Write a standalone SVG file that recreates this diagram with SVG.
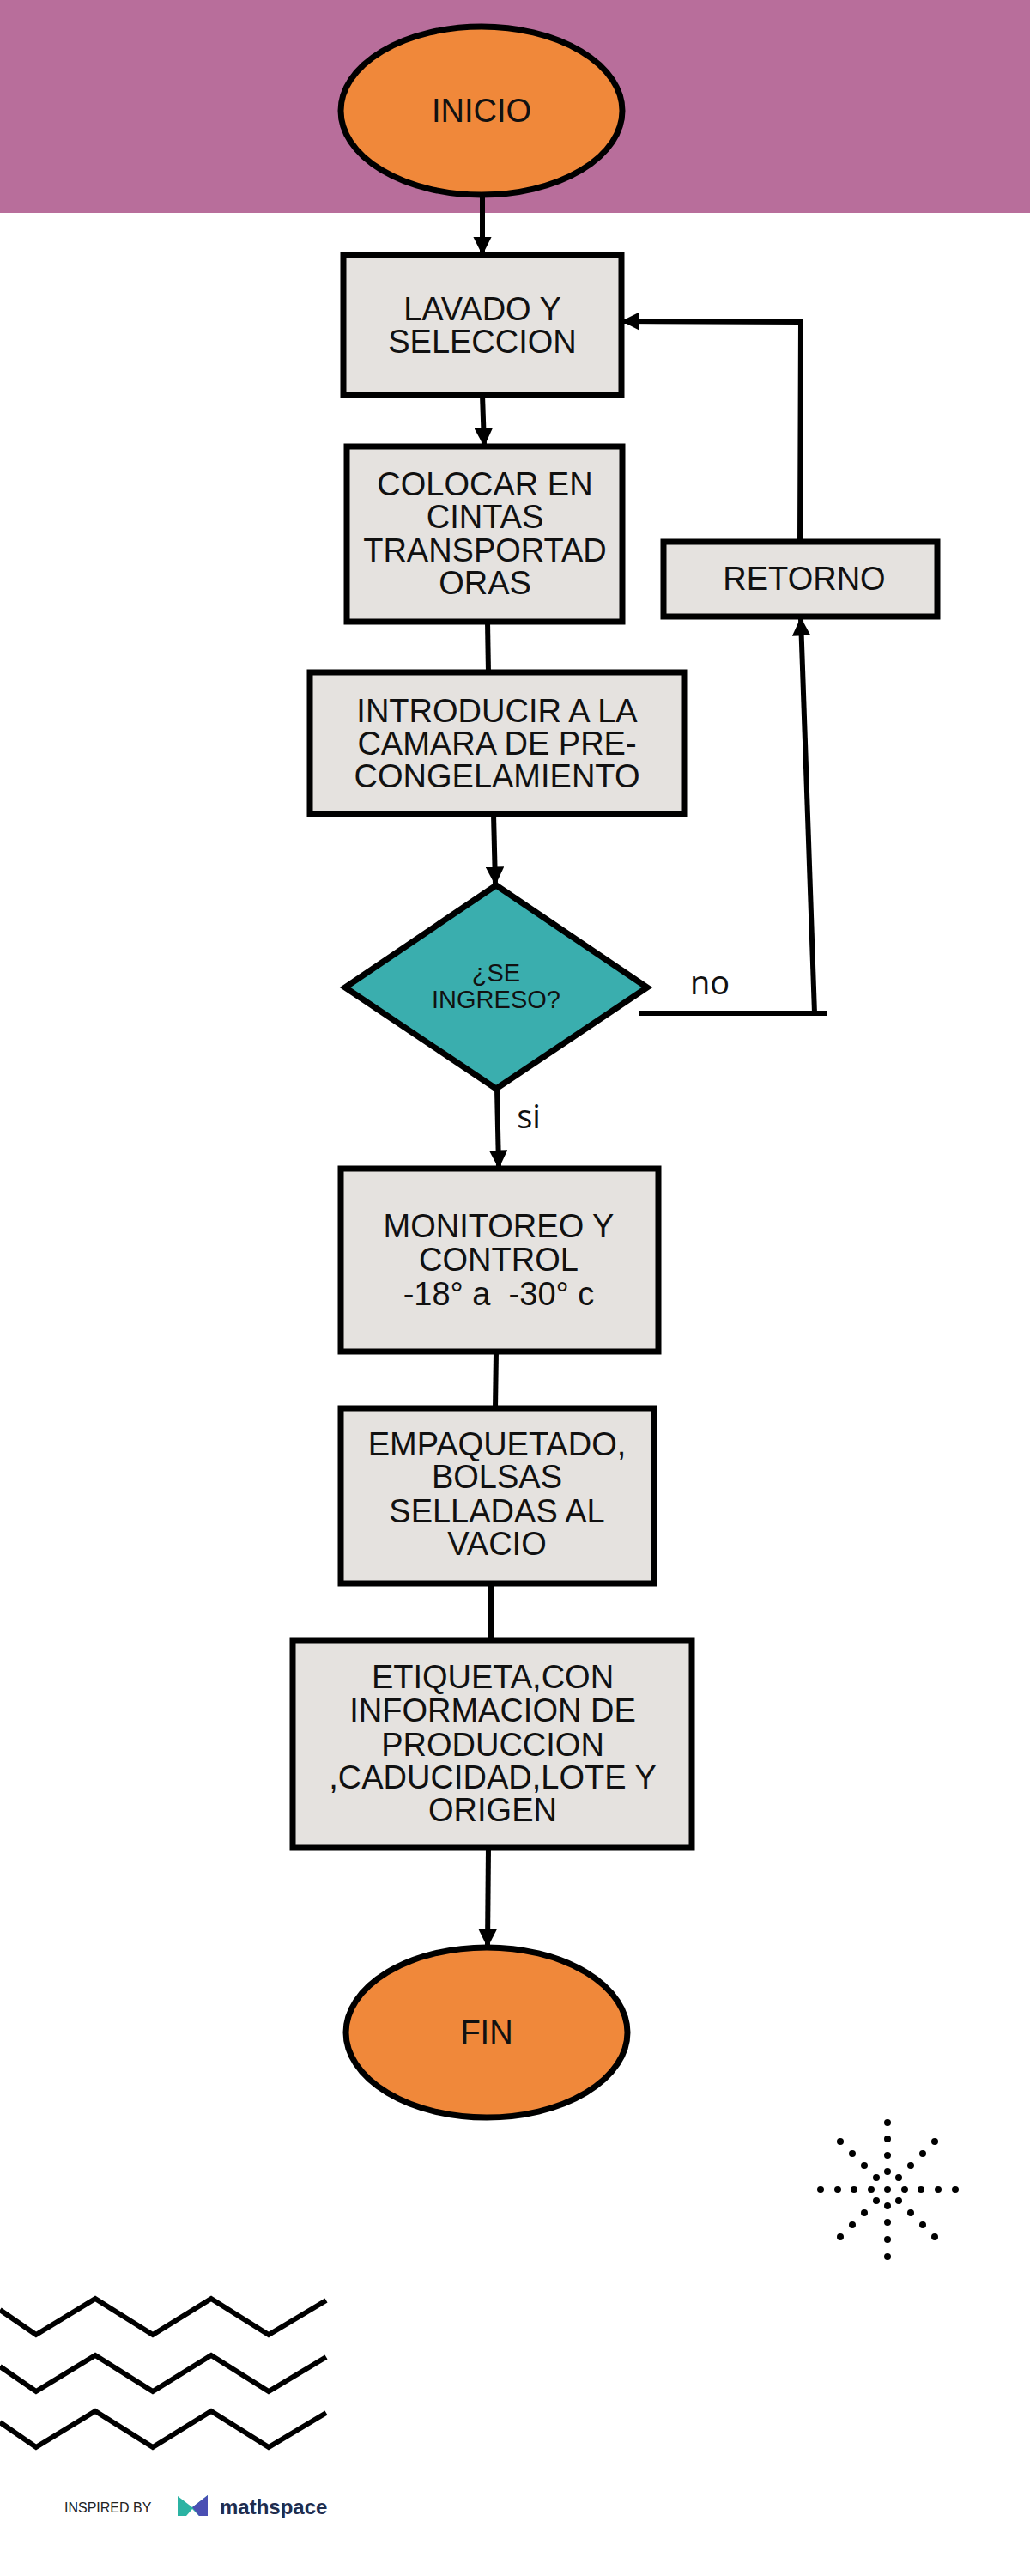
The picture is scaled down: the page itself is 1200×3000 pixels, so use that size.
<svg xmlns="http://www.w3.org/2000/svg" width="1200" height="3000" viewBox="0 0 1200 3000">
<style>
.box{fill:#e5e2df;stroke:#000;stroke-width:7}
.term{fill:#f0883a;stroke:#000;stroke-width:7}
.t{font-family:"Liberation Sans",Arial,sans-serif;font-size:38px;fill:#111;text-anchor:middle}
.c{fill:none;stroke:#000;stroke-width:6}
.z{fill:none;stroke:#000;stroke-width:6}
</style>
<defs>
<marker id="ah" viewBox="0 0 10 10" refX="9" refY="5" markerWidth="3.6" markerHeight="3.6" orient="auto-start-reverse"><path d="M0,0 L10,5 L0,10 z" fill="#000"/></marker>
</defs>
<rect x="0" y="0" width="1200" height="248" fill="#b86e9b"/>
<g id="connectors">
<line class="c" x1="562" y1="228" x2="562" y2="295" marker-end="url(#ah)"/>
<line class="c" x1="562" y1="460" x2="564" y2="518" marker-end="url(#ah)"/>
<line class="c" x1="568" y1="724" x2="569" y2="783"/>
<line class="c" x1="575" y1="948" x2="577" y2="1029" marker-end="url(#ah)"/>
<line class="c" x1="579" y1="1268" x2="581" y2="1359" marker-end="url(#ah)"/>
<line class="c" x1="578" y1="1574" x2="577" y2="1640"/>
<line class="c" x1="572" y1="1844" x2="572" y2="1911"/>
<line class="c" x1="569" y1="2152" x2="568" y2="2266" marker-end="url(#ah)"/>
<polyline class="c" points="744,1180 963,1180"/>
<line class="c" x1="949" y1="1180" x2="933" y2="721" marker-end="url(#ah)"/>
<polyline class="c" points="932,631 933,375 726,374" marker-end="url(#ah)"/>
<text class="t" x="827" y="1158" style="font-family:'Open Sans',sans-serif">no</text>
<text class="t" x="616" y="1314" style="font-family:'Open Sans',sans-serif">si</text>
</g>
<g id="inicio"><ellipse class="term" cx="561" cy="129" rx="164" ry="98"/><text class="t" x="561" y="142">INICIO</text></g>
<g id="lavado"><rect class="box" x="400" y="297" width="324" height="163"/><text class="t" x="562" y="373">LAVADO Y</text><text class="t" x="562" y="411">SELECCION</text></g>
<g id="colocar"><rect class="box" x="404" y="520" width="321" height="204"/><text class="t" x="565" y="577">COLOCAR EN</text><text class="t" x="565" y="615">CINTAS</text><text class="t" x="565" y="654">TRANSPORTAD</text><text class="t" x="565" y="692">ORAS</text></g>
<g id="introducir"><rect class="box" x="361" y="783" width="436" height="165"/><text class="t" x="579" y="841">INTRODUCIR A LA</text><text class="t" x="579" y="879">CAMARA DE PRE-</text><text class="t" x="579" y="917">CONGELAMIENTO</text></g>
<g id="retorno"><rect class="box" x="773" y="631" width="319" height="87"/><text class="t" x="937" y="687">RETORNO</text></g>
<g id="decision"><polygon points="578,1031 754,1150 578,1268 402,1150" fill="#3aaeae" stroke="#000" stroke-width="7"/><text class="t" x="578" y="1143" style="font-size:29px">¿SE</text><text class="t" x="578" y="1174" style="font-size:29px">INGRESO?</text></g>
<g id="monitoreo"><rect class="box" x="397" y="1361" width="370" height="213"/><text class="t" x="581" y="1441">MONITOREO Y</text><text class="t" x="581" y="1480">CONTROL</text><text class="t" x="581" y="1520" xml:space="preserve">-18° a  -30° c</text></g>
<g id="empaquetado"><rect class="box" x="397" y="1640" width="365" height="204"/><text class="t" x="579" y="1695">EMPAQUETADO,</text><text class="t" x="579" y="1733">BOLSAS</text><text class="t" x="579" y="1773">SELLADAS AL</text><text class="t" x="579" y="1811">VACIO</text></g>
<g id="etiqueta"><rect class="box" x="341" y="1911" width="465" height="241"/><text class="t" x="574" y="1966">ETIQUETA,CON</text><text class="t" x="574" y="2005">INFORMACION DE</text><text class="t" x="574" y="2045">PRODUCCION</text><text class="t" x="574" y="2083">,CADUCIDAD,LOTE Y</text><text class="t" x="574" y="2121">ORIGEN</text></g>
<g id="fin"><ellipse class="term" cx="567" cy="2367" rx="164" ry="99"/><text class="t" x="567" y="2380">FIN</text></g>
<g id="starburst" fill="#000">
<circle cx="1034" cy="2472" r="4"/><circle cx="1034" cy="2491" r="4"/><circle cx="1034" cy="2510" r="4"/><circle cx="1034" cy="2529" r="4"/><circle cx="1034" cy="2550" r="4"/><circle cx="1034" cy="2569" r="4"/><circle cx="1034" cy="2588" r="4"/><circle cx="1034" cy="2608" r="4"/><circle cx="1034" cy="2628" r="4"/>
<circle cx="956" cy="2550" r="4"/><circle cx="976" cy="2550" r="4"/><circle cx="995" cy="2550" r="4"/><circle cx="1015" cy="2550" r="4"/><circle cx="1054" cy="2550" r="4"/><circle cx="1073" cy="2550" r="4"/><circle cx="1093" cy="2550" r="4"/><circle cx="1113" cy="2550" r="4"/>
<circle cx="979" cy="2494" r="4"/><circle cx="993" cy="2508" r="4"/><circle cx="1007" cy="2522" r="4"/><circle cx="1021" cy="2536" r="4"/>
<circle cx="1089" cy="2494" r="4"/><circle cx="1075" cy="2508" r="4"/><circle cx="1061" cy="2522" r="4"/><circle cx="1047" cy="2536" r="4"/>
<circle cx="979" cy="2605" r="4"/><circle cx="993" cy="2591" r="4"/><circle cx="1007" cy="2577" r="4"/><circle cx="1021" cy="2563" r="4"/>
<circle cx="1089" cy="2605" r="4"/><circle cx="1075" cy="2591" r="4"/><circle cx="1061" cy="2577" r="4"/><circle cx="1047" cy="2563" r="4"/>
</g>
<g id="zigzags">
<polyline class="z" points="0,2690 42,2719 111,2677 178,2719 246,2677 313,2719 380,2679"/>
<polyline class="z" points="0,2756 42,2785 111,2743 178,2785 246,2743 313,2785 380,2745"/>
<polyline class="z" points="0,2821 42,2850 111,2808 178,2850 246,2808 313,2850 380,2810"/>
</g>
<g id="footer">
<text x="75" y="2926" style="font-family:'Liberation Sans',sans-serif;font-size:16px;fill:#222">INSPIRED BY</text>
<path d="M207,2930 L207,2907 L224,2920 L242,2906 L242,2930 L232,2930 L224,2922 L217,2930 z" fill="#2bb3a3"/>
<path d="M224,2920 L242,2906 L242,2930 L232,2930 z" fill="#4a4fb3"/>
<text x="256" y="2928" style="font-family:'Liberation Sans',sans-serif;font-size:24px;font-weight:bold;fill:#1f2d4e">mathspace</text>
</g>
</svg>
